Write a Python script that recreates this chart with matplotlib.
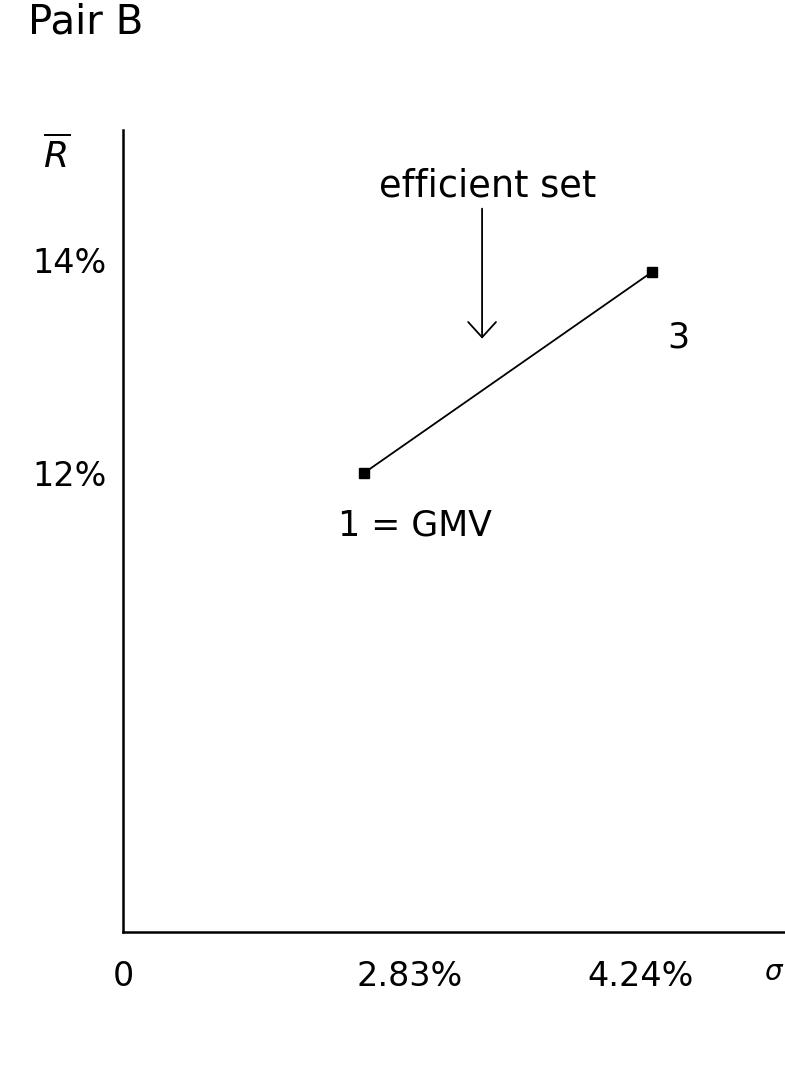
import numpy as np
import matplotlib
matplotlib.use("Agg")
import matplotlib.pyplot as plt
from matplotlib.transforms import ScaledTranslation

# portfolio points on the efficient set (sigma %, mean return %)
sigma = [2.83, 4.24]
ret = [12.0, 14.0]
point_labels = ["1 = GMV", "3"]

x_ticks = [0, 2.83, 4.24]
x_tick_labels = ["0", "2.83%", "4.24%"]
y_ticks = [12, 14]
y_tick_labels = ["12%", "14%"]

title = "Pair B"
arrow_text = "efficient set"

# the sketch is not drawn to scale on the sigma axis, so use a piecewise scale
knot_data = [0.0, 2.83, 4.24, 6.0]
knot_draw = [0.0, 241.0, 529.0, 888.0]


def fwd(v):
    return np.interp(v, knot_data, knot_draw)


def inv(v):
    return np.interp(v, knot_draw, knot_data)


fig = plt.figure(figsize=(7.85, 10.69), dpi=100)
W, H = 785, 1069
ax = fig.add_axes([123 / W, (H - 932) / H, 720 / W, 802 / H])
ax.set_xscale("function", functions=(fwd, inv))
ax.set_xlim(0, inv(720))
ax.set_ylim(12 - 459 / 100.5, 14 + 142 / 100.5)

for side in ["top", "right"]:
    ax.spines[side].set_visible(False)
for side in ["left", "bottom"]:
    ax.spines[side].set_linewidth(1.8)

ax.set_xticks(x_ticks)
ax.set_xticklabels(x_tick_labels, fontsize=24)
ax.set_yticks(y_ticks)
ax.set_yticklabels(y_tick_labels, fontsize=24)
ax.xaxis.set_minor_locator(matplotlib.ticker.NullLocator())
ax.tick_params(axis="x", length=0, pad=20)
ax.tick_params(axis="y", length=0, pad=12)

# the hand-drawn labels sit a little off the tick values
x_nudge = [0, 46, -11]
for lab, dx in zip(ax.get_xticklabels(), x_nudge):
    lab.set_transform(lab.get_transform()
                      + ScaledTranslation(dx / 100, 0, fig.dpi_scale_trans))
y_nudge = [0, 12]
for lab, dy in zip(ax.get_yticklabels(), y_nudge):
    lab.set_transform(lab.get_transform()
                      + ScaledTranslation(0, dy / 100, fig.dpi_scale_trans))

# the efficient set segment
ax.plot(sigma, ret, color="black", lw=1.3, marker="s", markersize=6.5,
        clip_on=False)

# point labels
ax.annotate(point_labels[0], xy=(sigma[0], ret[0]), xytext=(37, -38),
            textcoords="offset points", ha="center", va="center",
            fontsize=25)
ax.annotate(point_labels[1], xy=(sigma[1], ret[1]), xytext=(19, -47),
            textcoords="offset points", ha="center", va="center",
            fontsize=25)

# arrow pointing at the segment
t = 0.41
mx = sigma[0] + t * (sigma[1] - sigma[0])
my = ret[0] + t * (ret[1] - ret[0])
ax.annotate("", xy=(mx, my), xytext=(0, 131), textcoords="offset points",
            arrowprops=dict(arrowstyle="->, head_length=0.55, head_width=0.5",
                            color="black", lw=1.3, shrinkA=0, shrinkB=37.4,
                            mutation_scale=20))
ax.annotate(arrow_text, xy=(mx, my), xytext=(4.3, 147.6),
            textcoords="offset points", ha="center", va="center",
            fontsize=26.5)

# axis symbols and title
fig.text(43 / W, 1 - 155 / H, r"$\overline{R}$", fontsize=26,
         ha="left", va="center")
fig.text(764 / W, 1 - 972 / H, r"$\sigma$", fontsize=20,
         ha="left", va="center")
fig.text(28 / W, 1 - 3 / H, title, fontsize=29, ha="left", va="top")

fig.savefig("out.png", dpi=100, facecolor="white")
